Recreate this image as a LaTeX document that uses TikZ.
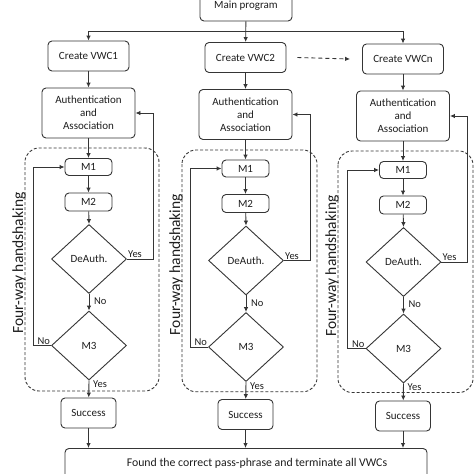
\documentclass[tikz,border=0pt]{standalone}
\usepackage{fontspec}
\setmainfont{Carlito}
\usetikzlibrary{shapes.geometric,arrows.meta}
\definecolor{ln}{HTML}{353535}
\definecolor{tx}{HTML}{1E1E1E}
\tikzset{
  every node/.style={text=tx, font=\fontsize{11}{13}\selectfont},
  rbox/.style={draw=ln, line width=0.9pt, rounded corners=4pt, align=center, inner sep=0pt},
  dia/.style={draw=ln, line width=0.9pt, diamond, inner sep=0pt, minimum width=75pt, minimum height=69pt},
  conn/.style={draw=ln, line width=0.9pt, -{Latex[length=5pt,width=4.5pt]}},
  plain/.style={draw=ln, line width=0.9pt},
  group/.style={draw=ln, line width=0.9pt, dash pattern=on 3pt off 2pt, rounded corners=14pt},
  lbl/.style={inner sep=0pt, font=\fontsize{10.5}{12}\selectfont},
  side/.style={inner sep=0pt, rotate=90, font=\fontsize{15.5}{18}\selectfont}
}
\begin{document}
\begin{tikzpicture}[x=1pt,y=-1pt]
\useasboundingbox (0,0) rectangle (474,474);
\clip (0,0) rectangle (474,474);
\fill[white] (0,0) rectangle (474,474);
\node[rbox, minimum width=92pt, minimum height=30pt] (main) at (246,6) {Main program};
\coordinate (hl) at (88.5,31);
\coordinate (hr) at (403,31);
\node[rbox, minimum width=362pt, minimum height=44pt, anchor=north] (fin) at (246,448) {};
\node[font=\fontsize{11.8}{14}\selectfont] (fint) at (257,463) {Found the correct pass-phrase and terminate all VWCs};
\draw[plain] (hl) -- (hr);
\foreach \i/\cx/\dy/\lab/\gx/\gy/\gr/\sx in {1/88.5/0/VWC1/25/148/159/19, 2/245.5/1.5/VWC2/182/150/317/176, 3/403/3/VWCn/338/151/473/332}{
  \node[rbox, minimum width=81pt, minimum height=30pt] (c\i) at (\cx,56+\dy) {Create \lab};
  \node[rbox, minimum width=93pt, minimum height=50pt] (a\i) at (\cx,113+\dy) {Authentication\\and\\Association};
  \draw[group] (\gx,\gy) rectangle (\gr,391+\dy/2);
  \node[rbox, minimum width=47pt, minimum height=17pt] (m1\i) at (\cx,167+\dy) {M1};
  \node[rbox, minimum width=47pt, minimum height=18pt] (m2\i) at (\cx,202+\dy) {M2};
  \node[dia] (d\i) at (\cx+0.5,259+\dy) {DeAuth.};
  \node[dia] (m3\i) at (\cx+0.5,345.5+\dy) {M3};
  \node[rbox, minimum width=55pt, minimum height=30pt] (s\i) at (\cx,413+\dy) {Success};
  \node[side] (fw\i) at (\sx,263+\dy) {Four-way handshaking};
  \coordinate (ye\i) at (\cx+64.5,259+\dy);
  \coordinate (ya\i) at (\cx+64.5,113+\dy);
  \coordinate (nw\i) at (\cx-55.5,345.5+\dy);
  \coordinate (nm\i) at (\cx-55.5,167+\dy);
  \draw[conn] (c\i) -- (a\i);
  \draw[conn] (a\i) -- (m1\i);
  \draw[conn] (m1\i) -- (m2\i);
  \draw[conn] (m2\i) -- (d\i.north);
  \draw[conn] (d\i.south) -- (m3\i.north);
  \draw[conn] (m3\i.south) -- (s\i);
  \draw[conn] (s\i.south) -- (s\i.south |- fin.north);
  \draw[conn] (d\i.east) -- (ye\i) -- (ya\i) -- (a\i.east |- ya\i);
  \draw[conn] (m3\i.west) -- (nw\i) -- (nm\i) -- (m1\i.west |- nm\i);
  \node[lbl, anchor=south west] (yl\i) at ([xshift=1pt,yshift=1pt]d\i.east) {Yes};
  \node[lbl, anchor=north west] (nl\i) at ([xshift=5pt,yshift=-4pt]d\i.south) {No};
  \node[lbl, anchor=south east] (nol\i) at ([xshift=-1pt,yshift=1pt]m3\i.west) {No};
  \node[lbl, anchor=north west] (yb\i) at ([xshift=4pt,yshift=-0.5pt]m3\i.south) {Yes};
}
\draw[conn] (main) -- (c2);
\draw[conn] (hl) -- (c1);
\draw[conn] (hr) -- (c3);
\draw[conn, dash pattern=on 4pt off 3pt] ([xshift=11pt]c2.east) -- ([xshift=-12pt]c3.west);
\end{tikzpicture}
\end{document}
